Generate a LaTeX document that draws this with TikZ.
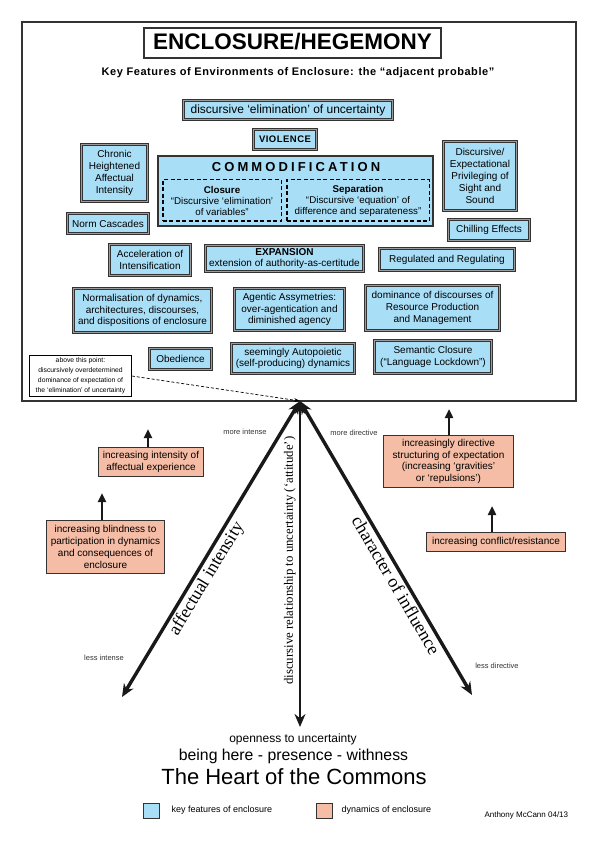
\documentclass[tikz,border=0pt]{standalone}
\usepackage{fontspec}
\setmainfont{Liberation Sans}
\newfontfamily\bookserif{Liberation Serif}
\newfontfamily\trackedsans[LetterSpace=24]{Liberation Sans}
\newfontfamily\lighttracked[LetterSpace=5]{Liberation Sans}
\usepackage{tikz}
\usetikzlibrary{arrows.meta, positioning}
\definecolor{enclblue}{HTML}{A9DEF7}
\definecolor{enclsalmon}{HTML}{F5BDA6}
\definecolor{enclgrey}{HTML}{333333}
\definecolor{enclband}{HTML}{9C9C9C}
\tikzset{
  keybox/.style={draw=enclgrey, line width=0.8pt, double=enclband, double distance=1.4pt,
    fill=enclblue, align=center, inner sep=1pt, font=\fontsize{10}{11.8}\selectfont},
  dynbox/.style={draw=enclgrey, line width=0.8pt, fill=enclsalmon, align=center,
    inner sep=1pt, font=\fontsize{10}{11.8}\selectfont},
  halfbox/.style={draw=black, line width=1.5pt, dash pattern=on 4pt off 2.5pt,
    align=center, inner sep=1pt, font=\fontsize{9.8}{11}\selectfont},
  axisarrow/.style={line width=3.4pt, draw=black!90,
    {Stealth[length=13pt,width=11pt]}-{Stealth[length=13pt,width=11pt]}},
  pusharrow/.style={line width=2.6pt, draw=black!90, -{Triangle[length=9pt,width=8pt]}},
  tinylabel/.style={font=\fontsize{7.5}{9}\selectfont, text=black!80},
  axislabel/.style={font=\bookserif\fontsize{18}{20}\selectfont, sloped, inner sep=2pt},
}

\begin{document}
\begin{tikzpicture}[x=1pt, y=-1pt]
      \useasboundingbox (0,0) rectangle (595,842);
      \draw[enclgrey, line width=1.3pt] (22,22) rectangle (576,401);
      \coordinate (apex) at (300,401);

      \node[draw=enclgrey, line width=1.6pt, fill=white, minimum width=297pt, minimum height=30pt,
        text depth=4pt, font=\bfseries\fontsize{22.5}{26}\selectfont] (title) at (292.5,43) {ENCLOSURE/HEGEMONY};
      \node[font=\lighttracked\bfseries\fontsize{11}{13}\selectfont] (subtitle) at (298,73)
        {Key Features of Environments of Enclosure: the “adjacent probable”};

      \node[keybox, minimum width=209pt, minimum height=19pt, font=\fontsize{12}{14}\selectfont] (elimination) at (288,110)
        {discursive ‘elimination’ of uncertainty};
      \node[keybox, minimum width=63pt, minimum height=20pt, font=\lighttracked\bfseries\fontsize{9.5}{11}\selectfont] (violence) at (285,139.5)
        {VIOLENCE};
      \node[draw=enclgrey, line width=1.6pt, fill=enclblue, minimum width=275pt, minimum height=70pt] (commodification) at (295.5,191) {};
      \node[font=\trackedsans\bfseries\fontsize{13}{15}\selectfont] (commodtitle) at (296,167) {COMMODIFICATION};
      \node[halfbox, minimum width=118.5pt, minimum height=41.5pt] (closure) at (222,200.5)
        {\textbf{Closure}\\“Discursive ‘elimination’\\of variables”};
      \node[halfbox, minimum width=142.5pt, minimum height=41.5pt] (separation) at (358,200.5)
        {\textbf{Separation}\\“Discursive ‘equation’ of\\difference and separateness”};

      \node[keybox, minimum width=66pt, minimum height=57pt] (chronic) at (114.5,173)
        {Chronic\\Heightened\\Affectual\\Intensity};
      \node[keybox, minimum width=73pt, minimum height=69pt] (privileging) at (480,176)
        {Discursive/\\Expectational\\Privileging of\\Sight and\\Sound};
      \node[keybox, minimum width=81pt, minimum height=20pt] (norms) at (108,223.5) {Norm Cascades};
      \node[keybox, minimum width=81pt, minimum height=21pt] (chilling) at (489,230) {Chilling Effects};
      \node[keybox, minimum width=81pt, minimum height=31pt] (acceleration) at (150,260)
        {Acceleration of\\Intensification};
      \node[keybox, minimum width=158pt, minimum height=26pt] (expansion) at (284.5,258.5)
        {\textbf{EXPANSION}\\extension of authority-as-certitude};
      \node[keybox, minimum width=135pt, minimum height=22pt] (regulated) at (447,259.5)
        {Regulated and Regulating};
      \node[keybox, minimum width=138pt, minimum height=44pt] (normalisation) at (142.5,310.5)
        {Normalisation of dynamics,\\architectures, discourses,\\and dispositions of enclosure};
      \node[keybox, minimum width=110pt, minimum height=42pt] (agentic) at (289.5,309.5)
        {Agentic Assymetries:\\over-agentication and\\diminished agency};
      \node[keybox, minimum width=134pt, minimum height=45pt] (dominance) at (432.5,308)
        {dominance of discourses of\\Resource Production\\and Management};
      \node[keybox, minimum width=62pt, minimum height=21pt] (obedience) at (180.5,359) {Obedience};
      \node[keybox, minimum width=123pt, minimum height=30pt] (autopoietic) at (293,358.5)
        {seemingly Autopoietic\\(self-producing) dynamics};
      \node[keybox, minimum width=117pt, minimum height=33pt] (semantic) at (433,357)
        {Semantic Closure\\(“Language Lockdown”)};

      \node[draw=black, line width=0.6pt, fill=white, align=center, minimum width=102pt, minimum height=41pt,
        inner sep=1pt, font=\fontsize{6.8}{10}\selectfont] (abovenote) at (80.5,376)
        {above this point:\\discursively overdetermined\\dominance of expectation of\\the ‘elimination’ of uncertainty};
      \draw[line width=0.7pt, dash pattern=on 3pt off 2pt, -{Stealth[length=6pt,width=4pt]}] (abovenote.east) -- (apex);

      \coordinate (lessint) at (122,697);
      \coordinate (lessdir) at (472,695);
      \coordinate (attitudeend) at (300,727);
      \draw[axisarrow] (lessint) -- node[axislabel, below, pos=0.42] (affectlabel) {affectual intensity} (apex);
      \draw[axisarrow] (apex) -- node[axislabel, below, pos=0.61] (influencelabel) {character of influence} (lessdir);
      \draw[axisarrow, line width=2.8pt] (attitudeend) -- node[sloped, above, pos=0.51, inner sep=3pt,
        font=\bookserif\fontsize{12.8}{14}\selectfont] (attitudelabel) {discursive relationship to uncertainty (‘attitude’)} (apex);

      \node[tinylabel] (moreint) at (245,432) {more intense};
      \node[tinylabel] (moredir) at (354,433) {more directive};
      \node[tinylabel] (lessintlabel) at (104,658) {less intense};
      \node[tinylabel] (lessdirlabel) at (497,666) {less directive};

      \node[dynbox, minimum width=105pt, minimum height=29pt] (affectexp) at (151,462)
        {increasing intensity of\\affectual experience};
      \node[dynbox, minimum width=118pt, minimum height=53pt] (blindness) at (105.5,547)
        {increasing blindness to\\participation in dynamics\\and consequences of\\enclosure};
      \node[dynbox, minimum width=130pt, minimum height=52pt] (directive) at (448.5,461.5)
        {increasingly directive\\structuring of expectation\\(increasing ‘gravities’\\or ‘repulsions’)};
      \node[dynbox, minimum width=139pt, minimum height=19pt] (conflict) at (496,542)
        {increasing conflict/resistance};
      \coordinate (affectexpup) at (148,429);
      \coordinate (blindnessup) at (102,493);
      \coordinate (directiveup) at (449,409);
      \coordinate (conflictup) at (492,506);
      \draw[pusharrow] (affectexp.north -| affectexpup) -- (affectexpup);
      \draw[pusharrow] (blindness.north -| blindnessup) -- (blindnessup);
      \draw[pusharrow] (directive.north -| directiveup) -- (directiveup);
      \draw[pusharrow] (conflict.north -| conflictup) -- (conflictup);

      \node[font=\fontsize{12}{14}\selectfont] (opennesstext) at (293,739) {openness to uncertainty};
      \node[font=\fontsize{15.8}{18}\selectfont] (presence) at (293.5,756) {being here - presence - withness};
      \node[font=\fontsize{22}{26}\selectfont] (heart) at (294,777) {The Heart of the Commons};

      \node[draw=enclgrey, line width=0.7pt, fill=enclblue, minimum width=16pt, minimum height=15pt] (keylegend) at (151.5,811) {};
      \node[font=\fontsize{9}{11}\selectfont, anchor=west] (keylegendtext) at (168,810) {key features of enclosure};
      \node[draw=enclgrey, line width=0.7pt, fill=enclsalmon, minimum width=16pt, minimum height=15pt] (dynlegend) at (324,811) {};
      \node[font=\fontsize{9}{11}\selectfont, anchor=west] (dynlegendtext) at (338,810) {dynamics of enclosure};
      \node[font=\fontsize{8}{10}\selectfont, anchor=west] (signature) at (481,815) {Anthony McCann 04/13};
    \end{tikzpicture}
\end{document}
